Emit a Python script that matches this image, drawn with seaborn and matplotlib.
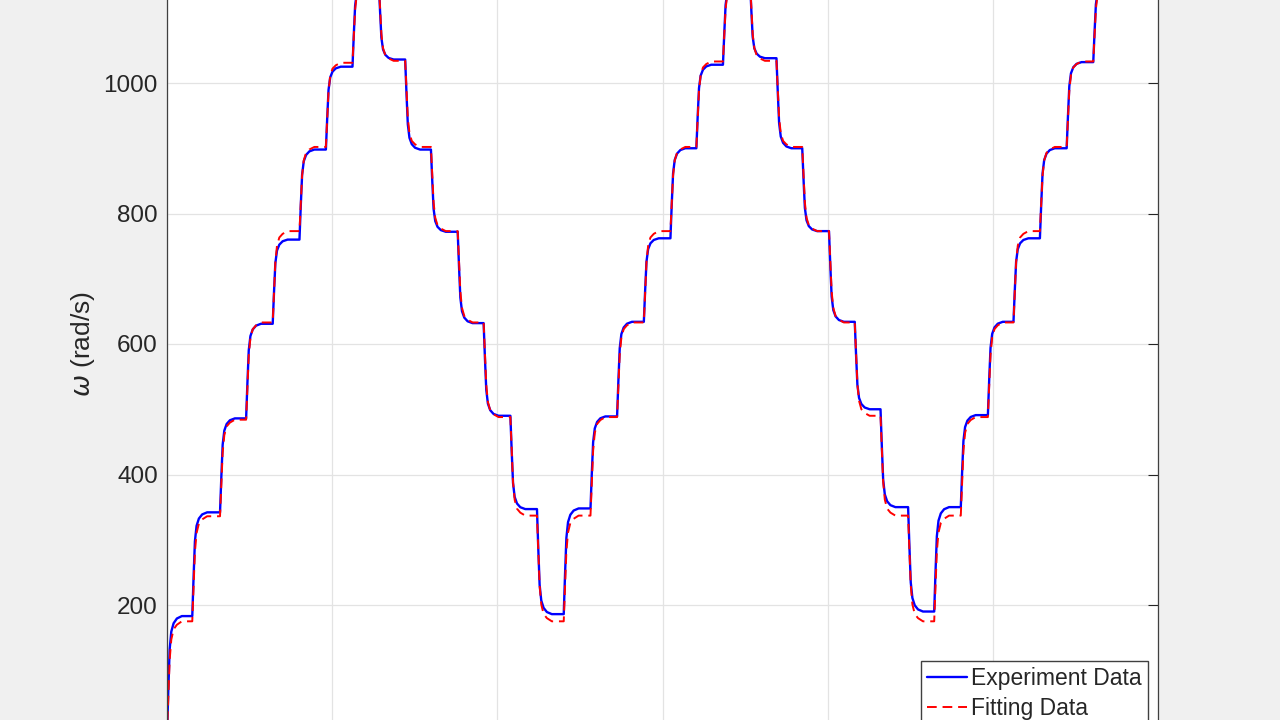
import numpy as np
import pandas as pd
import matplotlib
matplotlib.use("Agg")
import matplotlib.pyplot as plt
import seaborn as sns

# step instants (s)
step_t = [0.0, 1.53, 3.21, 4.79, 6.40, 8.02, 9.62, 11.23,
          12.82, 14.42, 15.98, 17.60, 19.17, 20.79, 22.40,
          24.02, 25.64, 27.25, 28.87, 30.48, 32.05, 33.66,
          35.30, 36.90, 38.46, 40.08, 41.64, 43.20, 44.87,
          46.45, 48.06, 49.70, 51.25, 52.85, 54.47, 56.08]
end_t = 57.2

# plateau levels (rad/s) after each step
exp_level = [183, 342, 486, 631, 760, 898, 1025, 1155,
             1036, 898, 772, 632, 490, 347, 186,
             348, 489, 634, 762, 900, 1028, 1155,
             1038, 900, 773, 634, 500, 350, 190,
             350, 491, 634, 762, 900, 1032, 1155]
fit_level = [175, 336, 484, 633, 773, 902, 1031, 1155,
             1034, 902, 773, 633, 488, 337, 175,
             337, 488, 633, 773, 902, 1033, 1155,
             1034, 902, 773, 633, 490, 337, 175,
             337, 488, 633, 773, 902, 1033, 1155]

# shape of one transition (time after step, fraction of the jump done)
knee_dt = [0.0, 0.08, 0.16, 0.26, 0.40, 0.60, 0.90]
exp_frac = [0.0, 0.38, 0.72, 0.87, 0.94, 0.98, 1.0]
fit_frac = [0.0, 0.33, 0.66, 0.84, 0.93, 0.97, 1.0]

yticks = [200, 400, 600, 800, 1000]
xticks = [0, 10, 20, 30, 40, 50, 60]


def build_curve(levels, frac):
    rows = []
    prev = 0.0
    for t0, lev in zip(step_t, levels):
        for dt, f in zip(knee_dt, frac):
            rows.append((t0 + dt, prev + f * (lev - prev)))
        prev = lev
    rows.append((end_t, prev))
    return pd.DataFrame(rows, columns=["t", "w"])


exp_df = build_curve(exp_level, exp_frac)
fit_df = build_curve(fit_level, fit_frac)

sns.set_style("white")
plt.rcParams["font.family"] = ["Liberation Sans", "DejaVu Sans"]
plt.rcParams["mathtext.fontset"] = "dejavusans"

fig = plt.figure(figsize=(12.8, 7.2), dpi=100)
fig.patch.set_facecolor("#f0f0f0")
# axes run past the frame at top and bottom, like the cropped original
ax = fig.add_axes([167 / 1280, -15.5 / 720, 991 / 1280, 783 / 720])
ax.set_facecolor("white")

sns.lineplot(data=exp_df, x="t", y="w", ax=ax, color="#0000ff", lw=1.7,
             estimator=None, sort=False, label="Experiment Data")
sns.lineplot(data=fit_df, x="t", y="w", ax=ax, color="#ff0000", lw=1.4,
             estimator=None, sort=False, linestyle=(0, (5, 3)),
             label="Fitting Data")

ax.set_xlim(0, 60)
ax.set_ylim(0, 1200)
ax.set_xticks(xticks)
ax.set_yticks(yticks)
ax.grid(True, color="#e3e3e3", lw=0.9)
ax.set_axisbelow(True)
ax.tick_params(direction="in", length=7, width=0.8, right=True, top=True,
               labelsize=17.5, colors="#262626", pad=6.5, labelbottom=False)
for sp in ax.spines.values():
    sp.set_color("#404040")
    sp.set_linewidth(0.9)

ax.set_xlabel("")
ax.set_ylabel(r"$\omega$ (rad/s)", fontsize=19, color="#262626")
ax.yaxis.set_label_coords(-0.071, 0.5)

leg = ax.legend(loc="upper left", bbox_to_anchor=(921 / 1280, 1 - 661 / 720),
                bbox_transform=fig.transFigure, fontsize=16.5, frameon=True,
                fancybox=False, handlelength=1.75, handletextpad=0.2,
                borderpad=0.25, labelspacing=0.3, borderaxespad=0)
leg.get_frame().set_edgecolor("#404040")
leg.get_frame().set_linewidth(1.0)
leg.get_frame().set_alpha(1.0)

fig.savefig("out.png", dpi=100, facecolor=fig.get_facecolor())
